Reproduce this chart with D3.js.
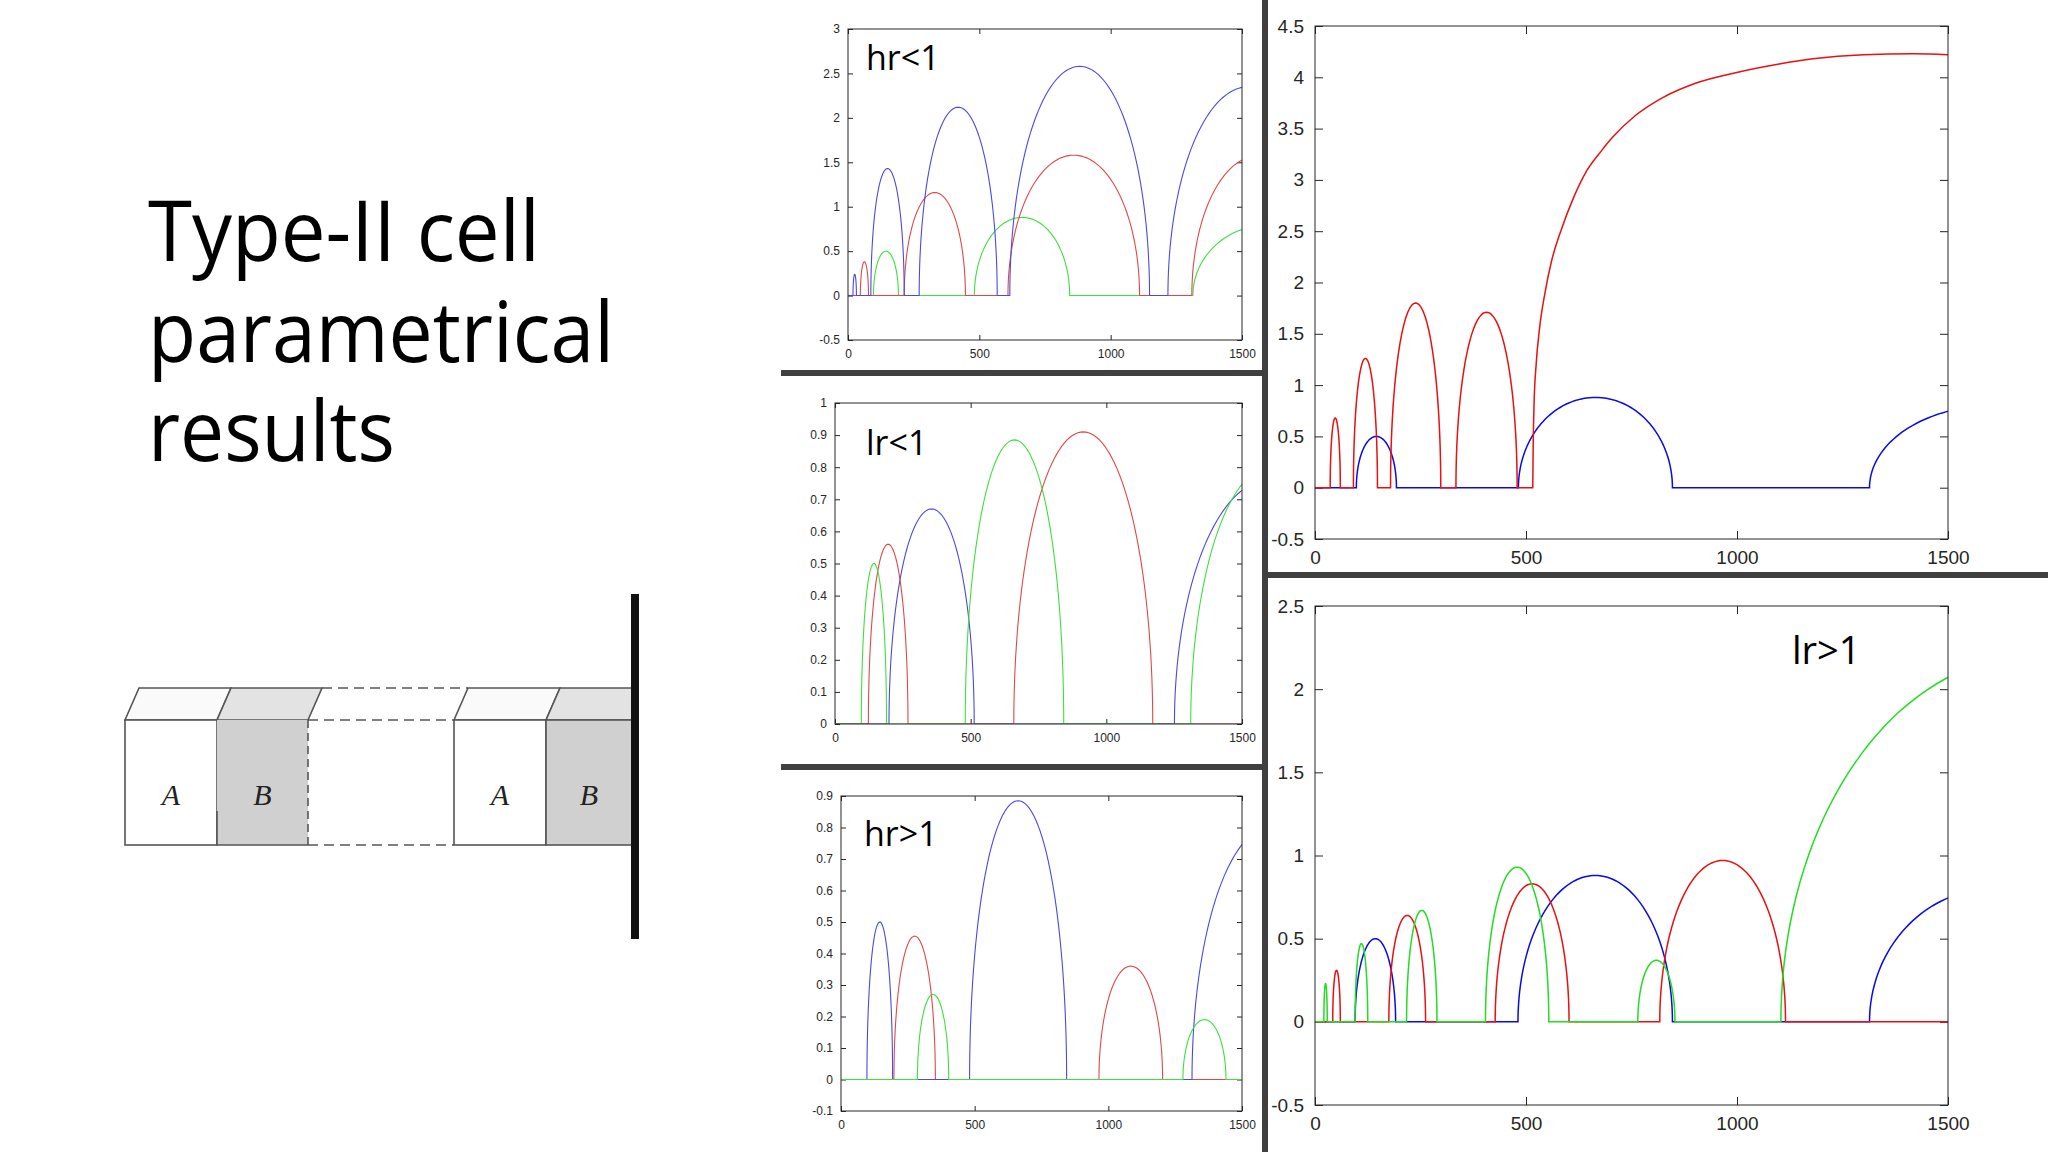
<!DOCTYPE html>
<html>
<head>
<meta charset="utf-8">
<script src="https://cdn.jsdelivr.net/npm/d3@7"></script>
<style>
body { margin: 0; background: #fff; }
svg { display: block; }
.tick text { fill: #262626; }
</style>
</head>
<body>
<svg id="slide" width="2048" height="1152"></svg>
<script>
//----------------------------- Data -----------------------------
// each arch: [start, end, peak]; arches that run past 1500 are clipped at the frame

var xTicks = [0, 500, 1000, 1500];

// hr<1
var hrLowBlue  = [[19, 32, 0.24], [87, 214, 1.43], [271, 568, 2.12], [616, 1148, 2.58], [1218, 1830, 2.35]];
var hrLowRed   = [[47, 78, 0.38], [214, 447, 1.16], [609, 1110, 1.58], [1309, 1811, 1.57]];
var hrLowGreen = [[97, 192, 0.5], [481, 844, 0.88], [1313, 1900, 0.8]];
var hrLowTicks = [-0.5, 0, 0.5, 1, 1.5, 2, 2.5, 3];

// lr<1
var lrLowGreen = [[97, 190, 0.5], [480, 843, 0.885], [1311, 1900, 0.8]];
var lrLowRed   = [[123, 269, 0.56], [659, 1171, 0.91]];
var lrLowBlue  = [[199, 513, 0.67], [1251, 1950, 0.76]];
var lrLowTicks = [0, 0.1, 0.2, 0.3, 0.4, 0.5, 0.6, 0.7, 0.8, 0.9, 1];

// hr>1
var hrHighBlue  = [[97, 193, 0.5], [481, 844, 0.885], [1313, 1900, 0.8]];
var hrHighRed   = [[198, 353, 0.455], [965, 1203, 0.36]];
var hrHighGreen = [[286, 403, 0.27], [1279, 1440, 0.19]];
var hrHighTicks = [-0.1, 0, 0.1, 0.2, 0.3, 0.4, 0.5, 0.6, 0.7, 0.8, 0.9];

// big top panel
var topRed  = [[36, 60, 0.68], [91, 148, 1.26], [179, 298, 1.8], [334, 479, 1.71]];
var topRedRise = [[516, 0], [517, 0.4], [519, 0.8], [524, 1.2], [532, 1.55], [545, 1.9], [560, 2.2],
                  [584, 2.52], [612, 2.82], [644, 3.09], [680, 3.29], [704, 3.41], [760, 3.63],
                  [823, 3.8], [900, 3.94], [1002, 4.05], [1100, 4.13], [1180, 4.18], [1300, 4.22],
                  [1419, 4.23], [1500, 4.22]];
var topBlue = [[98, 193, 0.5], [482, 847, 0.88], [1314, 1900, 0.8]];
var topTicks = [-0.5, 0, 0.5, 1, 1.5, 2, 2.5, 3, 3.5, 4, 4.5];

// big bottom panel (lr>1)
var botGreen = [[21, 29, 0.23], [95, 125, 0.47], [217, 289, 0.67], [404, 554, 0.93], [765, 853, 0.37], [1104, 2300, 2.2]];
var botRed   = [[42, 60, 0.31], [175, 262, 0.64], [427, 602, 0.83], [817, 1115, 0.97]];
var botBlue  = [[95, 191, 0.5], [481, 847, 0.88], [1314, 1900, 0.8]];
var botTicks = [-0.5, 0, 0.5, 1, 1.5, 2, 2.5];

var svg = d3.select("#slide");

//----------------------------- Title -----------------------------
var titleLines = [
	{text: "Type-II cell", y: 261, w: 392},
	{text: "parametrical", y: 362, w: 466},
	{text: "results", y: 461, w: 247}
];
svg.selectAll(".title")
	.data(titleLines)
	.enter().append("text")
	.attr("class", "title")
	.attr("x", 148)
	.attr("y", function(d) { return d.y; })
	.attr("textLength", function(d) { return d.w; })
	.attr("lengthAdjust", "spacingAndGlyphs")
	.style("font-family", "'Open Sans', 'Noto Sans', sans-serif")
	.style("font-size", "84px")
	.style("fill", "#000")
	.text(function(d) { return d.text; });

//----------------------------- Unit cell sketch -----------------------------
var sk = svg.append("g").attr("stroke", "#555").attr("stroke-width", 1.6);
var fTop = 720, fBot = 845, bTop = 688, dx = 14;
var boxes = [
	{x0: 125, x1: 217, fill: "#fff", topFill: "#fafafa", label: "A"},
	{x0: 217, x1: 308, fill: "#d0d0d0", topFill: "#e3e3e3", label: "B"},
	{x0: 454, x1: 546, fill: "#fff", topFill: "#fafafa", label: "A"},
	{x0: 546, x1: 632, fill: "#d0d0d0", topFill: "#e3e3e3", label: "B"}
];
boxes.forEach(function(b, i) {
	var right = (i == 3) ? b.x1 : b.x1 + dx;
	sk.append("path")
		.attr("d", "M" + b.x0 + "," + fTop + "L" + (b.x0 + dx) + "," + bTop + "L" + right + "," + bTop + "L" + b.x1 + "," + fTop + "Z")
		.attr("fill", b.topFill);
	sk.append("rect")
		.attr("x", b.x0).attr("y", fTop)
		.attr("width", b.x1 - b.x0).attr("height", fBot - fTop)
		.attr("fill", b.fill)
		.attr("stroke-dasharray", i == 1 ? "0," + (b.x1 - b.x0 + fBot - fTop) + ",125,0" : null);
	sk.append("text")
		.attr("x", (b.x0 + b.x1) / 2).attr("y", 798)
		.attr("text-anchor", "middle").attr("dominant-baseline", "middle")
		.attr("stroke", "none").attr("fill", "#222")
		.style("font-family", "'Liberation Serif', serif").style("font-style", "italic")
		.style("font-size", "30px")
		.text(b.label);
});
// B right edge drawn dashed
sk.append("line").attr("x1", 308).attr("y1", fTop).attr("x2", 308).attr("y2", fBot).attr("stroke-dasharray", "8,5");
[[308 + dx, bTop, 454 + dx, bTop], [308, fTop, 454, fTop], [308, fBot, 454, fBot]].forEach(function(l) {
	sk.append("line").attr("x1", l[0]).attr("y1", l[1]).attr("x2", l[2]).attr("y2", l[3])
		.attr("stroke-dasharray", "10,6");
});
svg.append("rect").attr("x", 631).attr("y", 594).attr("width", 8).attr("height", 345).attr("fill", "#111");

//----------------------------- Separators -----------------------------
var sep = "#404040";
svg.append("rect").attr("x", 1262).attr("y", 0).attr("width", 6).attr("height", 1152).attr("fill", sep);
svg.append("rect").attr("x", 781).attr("y", 370).attr("width", 484).attr("height", 6).attr("fill", sep);
svg.append("rect").attr("x", 781).attr("y", 764).attr("width", 484).attr("height", 6).attr("fill", sep);
svg.append("rect").attr("x", 1262).attr("y", 572).attr("width", 786).attr("height", 6).attr("fill", sep);

//----------------------------- Panels -----------------------------
function archPoints(arches) {
	var pts = [[0, 0]];
	arches.forEach(function(a) {
		var c = (a[0] + a[1]) / 2, h = (a[1] - a[0]) / 2;
		pts.push([a[0], 0]);
		for (var i = 0; i <= 80; i++) {
			var t = Math.PI * (1 - i / 80);
			pts.push([c + h * Math.cos(t), a[2] * Math.sin(t)]);
		}
		pts.push([a[1], 0]);
	});
	return pts;
}

var clipId = 0;
function panel(cfg) {
	var x = d3.scaleLinear().domain([0, 1500]).range([cfg.left, cfg.right]);
	var y = d3.scaleLinear().domain([cfg.ticks[0], cfg.ticks[cfg.ticks.length - 1]]).range([cfg.bottom, cfg.top]);
	var g = svg.append("g");
	var fs = cfg.big ? "19px" : "12px";
	var tl = cfg.big ? 8 : 5;
	var fmt = function(d) { return String(+d.toFixed(2)); };

	function styleAxis(sel) {
		sel.select(".domain").remove();
		sel.selectAll("line").attr("stroke", "#262626");
		sel.selectAll("text").style("font-family", "'Liberation Sans', Arial, sans-serif").style("font-size", fs);
	}
	g.append("g").attr("transform", "translate(0," + cfg.bottom + ")")
		.call(d3.axisBottom(x).tickValues(xTicks).tickSize(-tl).tickPadding(tl + 4).tickFormat(fmt))
		.call(styleAxis);
	g.append("g").attr("transform", "translate(0," + cfg.top + ")")
		.call(d3.axisTop(x).tickValues(xTicks).tickSize(-tl).tickFormat(""))
		.call(styleAxis);
	g.append("g").attr("transform", "translate(" + cfg.left + ",0)")
		.call(d3.axisLeft(y).tickValues(cfg.ticks).tickSize(-tl).tickPadding(tl + 3).tickFormat(fmt))
		.call(styleAxis);
	g.append("g").attr("transform", "translate(" + cfg.right + ",0)")
		.call(d3.axisRight(y).tickValues(cfg.ticks).tickSize(-tl).tickFormat(""))
		.call(styleAxis);

	var id = "clip" + (clipId++);
	g.append("clipPath").attr("id", id).append("rect")
		.attr("x", cfg.left).attr("y", cfg.top)
		.attr("width", cfg.right - cfg.left).attr("height", cfg.bottom - cfg.top);

	var line = d3.line()
		.x(function(d) { return x(d[0]); })
		.y(function(d) { return y(d[1]); });
	var smooth = d3.line()
		.x(function(d) { return x(d[0]); })
		.y(function(d) { return y(d[1]); })
		.curve(d3.curveMonotoneX);
	var lines = g.append("g").attr("clip-path", "url(#" + id + ")");
	cfg.series.forEach(function(s) {
		var pts = archPoints(s.arches);
		var d;
		if (s.extra) {
			d = line(pts) + smooth(s.extra).replace(/^M/, "L");
		} else {
			if (s.arches[s.arches.length - 1][1] < 1500) pts.push([1500, 0]);
			d = line(pts);
		}
		lines.append("path")
			.attr("d", d)
			.attr("fill", "none")
			.attr("stroke", s.color)
			.attr("stroke-width", cfg.big ? 1.5 : 1.1);
	});

	g.append("rect")
		.attr("x", cfg.left).attr("y", cfg.top)
		.attr("width", cfg.right - cfg.left).attr("height", cfg.bottom - cfg.top)
		.attr("fill", "none").attr("stroke", "#262626").attr("stroke-width", 1);

	if (cfg.label) {
		g.append("text")
			.attr("x", cfg.label.x).attr("y", cfg.label.y)
			.style("font-family", "'Open Sans', 'Noto Sans', sans-serif")
			.style("font-size", cfg.label.size + "px")
			.style("fill", "#000")
			.text(cfg.label.text);
	}
}

var sBlue = "#4a4ae0", sRed = "#e04848", sGreen = "#3ee03e";
var bBlue = "#0a0ae6", bRed = "#e81010", bGreen = "#22dd22";

panel({left: 848, right: 1242, top: 29, bottom: 340, ticks: hrLowTicks,
	label: {text: "hr<1", x: 866, y: 70, size: 34},
	series: [{arches: hrLowGreen, color: sGreen}, {arches: hrLowRed, color: sRed}, {arches: hrLowBlue, color: sBlue}]});

panel({left: 835, right: 1242, top: 403, bottom: 724, ticks: lrLowTicks,
	label: {text: "lr<1", x: 866, y: 455, size: 34},
	series: [{arches: lrLowBlue, color: sBlue}, {arches: lrLowRed, color: sRed}, {arches: lrLowGreen, color: sGreen}]});

panel({left: 841, right: 1242, top: 796, bottom: 1111, ticks: hrHighTicks,
	label: {text: "hr>1", x: 864, y: 846, size: 34},
	series: [{arches: hrHighRed, color: sRed}, {arches: hrHighBlue, color: sBlue}, {arches: hrHighGreen, color: sGreen}]});

panel({left: 1315, right: 1948, top: 26, bottom: 539, ticks: topTicks, big: true,
	series: [{arches: topBlue, color: bBlue}, {arches: topRed, extra: topRedRise, color: bRed}]});

panel({left: 1315, right: 1948, top: 606, bottom: 1105, ticks: botTicks, big: true,
	label: {text: "lr>1", x: 1792, y: 664, size: 38},
	series: [{arches: botBlue, color: bBlue}, {arches: botRed, color: bRed}, {arches: botGreen, color: bGreen}]});
</script>
</body>
</html>
